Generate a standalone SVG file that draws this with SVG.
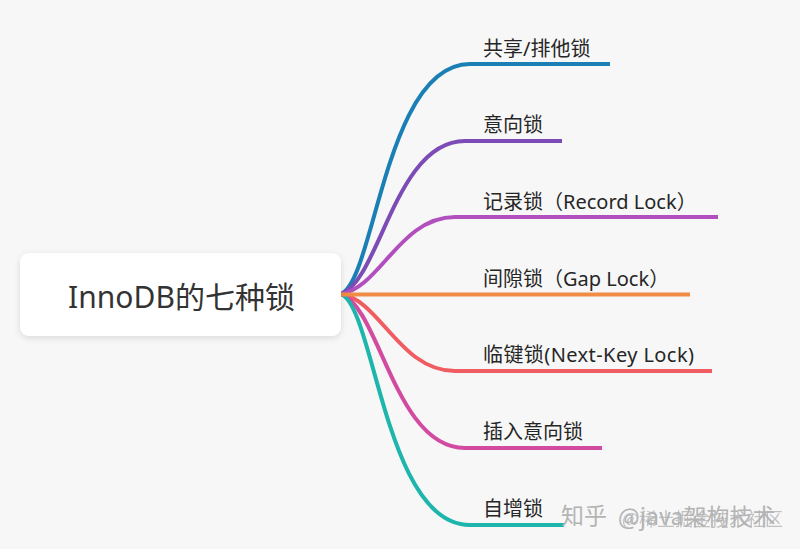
<svg xmlns="http://www.w3.org/2000/svg" width="800" height="549" viewBox="0 0 800 549">
<style>
.c{fill:none;stroke-width:4;stroke-linecap:butt}
.t{font-family:"Noto Sans","Noto Sans CJK SC",sans-serif;font-size:20px;fill:#262626}
.w{font-family:"Noto Sans CJK SC","Noto Sans",sans-serif;fill:#b4b4b4}
</style>
<defs><filter id="s" x="-10%" y="-20%" width="120%" height="150%"><feDropShadow dx="0" dy="2" stdDeviation="3" flood-color="#000" flood-opacity="0.12"/></filter></defs>
<rect width="800" height="549" fill="#f7f7f7"/>
<g id="connectors">
<path class="c" stroke="#1a7fb5" d="M341 294C375 280 385 64 470 64H610"/>
<path class="c" stroke="#7c4bb5" d="M341 294C380 280 395 141 465 141H562"/>
<path class="c" stroke="#b24fbe" d="M341 294C380 288 400 217 455 217H718"/>
<path class="c" stroke="#ef5d63" d="M341 294C380 300 400 371 455 371H712"/>
<path class="c" stroke="#d34ba0" d="M341 294C380 308 395 448 465 448H602"/>
<path class="c" stroke="#1eb5ad" d="M341 294C375 308 385 525 470 525H564"/>
<path class="c" stroke="#f08c45" d="M341 294.500H690"/>
</g>
<g id="root"><rect x="20" y="253" width="321" height="83" rx="9" fill="#fff" filter="url(#s)"/><text x="181.500" y="308" text-anchor="middle" style="font-family:'Noto Sans','Noto Sans CJK SC',sans-serif;font-size:30px;fill:#333">InnoDB的七种锁</text></g>
<g id="n1"><text class="t" x="483" y="56">共享/排他锁</text></g>
<g id="n2"><text class="t" x="483" y="132">意向锁</text></g>
<g id="n3"><text class="t" x="483" y="209">记录锁（Record Lock）</text></g>
<g id="n4"><text class="t" x="483" y="286">间隙锁（Gap Lock）</text></g>
<g id="n5"><text class="t" x="483" y="362" textLength="211" lengthAdjust="spacing">临键锁(Next-Key Lock)</text></g>
<g id="n6"><text class="t" x="483" y="439">插入意向锁</text></g>
<g id="n7"><text class="t" x="483" y="516">自增锁</text></g>
<g id="watermark"><text class="w" x="561" y="524" font-size="23">知乎</text><text class="w" x="618" y="525" font-size="23">@java架构技术</text><text class="w" x="622" y="526" font-size="18" opacity="0.8">@稀土掘金技术社区</text></g>
</svg>
